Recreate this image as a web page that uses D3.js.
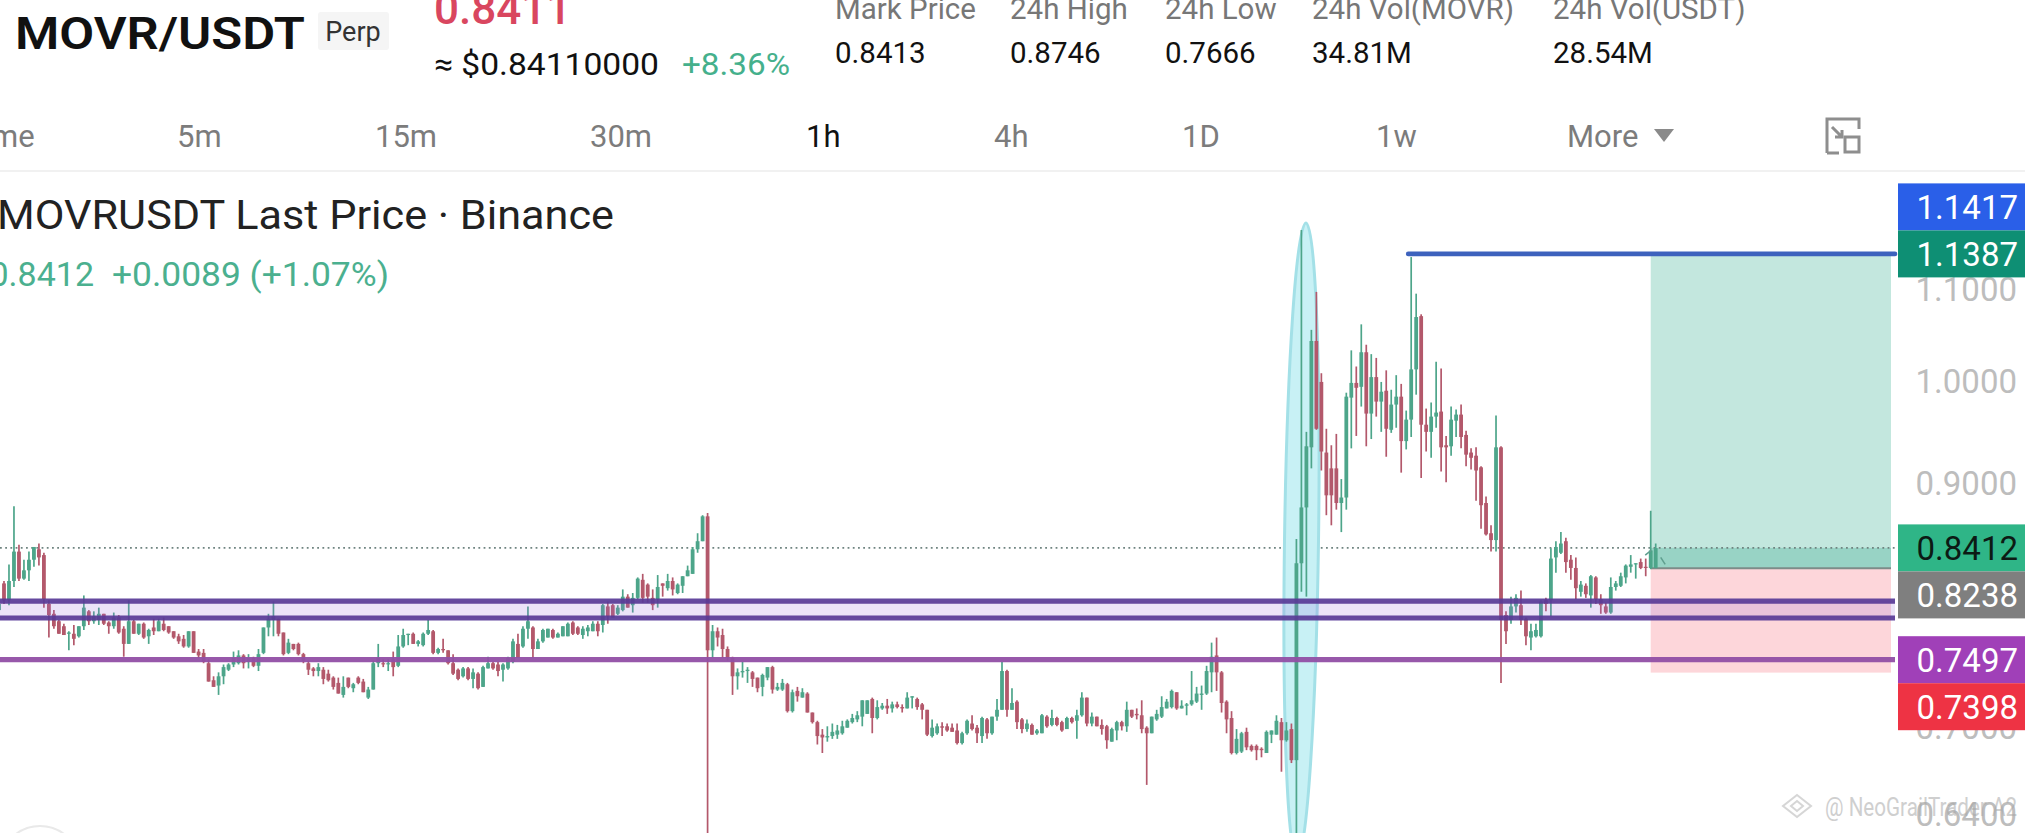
<!DOCTYPE html>
<html>
<head>
<meta charset="utf-8">
<script src="https://cdn.jsdelivr.net/npm/d3@7/dist/d3.min.js"></script>
<style>
  html, body { margin: 0; padding: 0; background: #fff; overflow: hidden; }
  text { font-family: Roboto, "Open Sans", sans-serif; }
</style>
</head>
<body>
<svg id="chart" width="2025" height="833"></svg>
<script>
// candles, g = up, r = down
var candleDirs = ("grggrgggrr" + "rrrrgrggrg" + "grrgrrgrgr" + "grgrrrrrgr" + "rrrrgggggr" + "grggggrrgr" + "rrrrgrrrrg" +
	"rgrrgggrgr" + "gggrgggrgr" + "rrrgrgrggr" + "rgggrggrgg" + "grgggrrggg" + "rgrrggrggr" + "rrgrgrgggg" +
	"ggrgrrrrgg" + "grrggrggrg" + "rgrrrrgggg" + "gggggrggrg" + "rrggrrrggr" + "rrrggrrgrg" + "ggrgrrgrgg" +
	"rgrrgrggrg" + "rrrggrgrrr" + "rgggggrggg" + "ggggrrrrgg" + "rrrrgggrgr" + "ggggrrrrrg" + "ggrgrgrgrg" +
	"grgggrrggr" + "rggrrrrrrr" + "grrggrrggg" + "rgggrrrgrg" + "rrrggggggr" + "rgg").split("");

var candleHighs = [
	.797,.813,.827,.878,.844,.831,.838,.842,.845,.837,
	.797,.789,.781,.778,.772,.777,.776,.801,.789,.788,
	.791,.786,.780,.787,.785,.776,.797,.781,.778,.779,
	.774,.782,.782,.783,.776,.772,.770,.769,.772,.772,
	.758,.758,.750,.737,.740,.746,.747,.756,.757,.754,
	.754,.752,.758,.775,.786,.796,.782,.771,.766,.762,
	.763,.755,.749,.744,.747,.744,.742,.737,.736,.737,
	.736,.732,.737,.735,.729,.749,.762,.750,.750,.756,
	.769,.774,.770,.771,.765,.771,.781,.773,.759,.766,
	.757,.754,.743,.744,.744,.743,.740,.745,.752,.748,
	.748,.747,.752,.766,.770,.776,.792,.776,.766,.774,
	.774,.774,.771,.776,.779,.780,.776,.776,.777,.780,
	.780,.794,.796,.794,.793,.806,.802,.803,.816,.819,
	.811,.806,.818,.811,.819,.816,.811,.817,.826,.842,
	.854,.870,.872,.777,.775,.774,.760,.752,.743,.748,
	.744,.741,.736,.739,.744,.745,.732,.735,.732,.727,
	.729,.728,.725,.710,.704,.698,.700,.702,.701,.704,
	.705,.709,.711,.719,.719,.721,.719,.717,.720,.718,
	.718,.716,.725,.722,.721,.717,.712,.705,.702,.703,
	.702,.702,.702,.696,.705,.708,.701,.707,.706,.707,
	.720,.748,.742,.728,.719,.706,.705,.702,.698,.709,
	.708,.712,.707,.704,.707,.707,.712,.725,.721,.710,
	.707,.705,.701,.699,.704,.704,.718,.712,.713,.719,
	.700,.707,.712,.722,.720,.727,.725,.719,.717,.741,
	.729,.730,.745,.763,.767,.741,.719,.711,.698,.696,
	.699,.687,.687,.685,.697,.697,.708,.706,.703,.702,
	.849,1.167,.948,1.053,1.095,1.007,.951,.935,.946,.903,
	.987,1.031,1.014,1.059,1.037,1.027,1.023,.998,1.010,.990,
	1.005,.996,.969,1.135,1.093,1.070,.971,.977,1.019,1.012,
	.944,.973,.970,.975,.949,.932,.933,.915,.887,.861,
	.964,.934,.788,.800,.802,.805,.783,.778,.778,.797,
	.799,.841,.847,.855,.850,.835,.833,.813,.811,.818,
	.817,.802,.795,.816,.813,.820,.827,.835,.828,.832,
	.832,.874,.845];

var candleTops = [
	.794,.811,.813,.838,.838,.822,.831,.842,.840,.835,
	.794,.786,.780,.776,.771,.770,.776,.791,.788,.784,
	.786,.786,.779,.783,.783,.774,.780,.780,.778,.778,
	.773,.775,.780,.778,.776,.772,.768,.766,.772,.772,
	.756,.755,.747,.734,.737,.744,.746,.751,.753,.753,
	.751,.751,.754,.775,.782,.784,.782,.771,.763,.762,
	.762,.754,.747,.743,.744,.742,.739,.736,.732,.729,
	.736,.731,.736,.733,.727,.747,.751,.747,.747,.750,
	.760,.769,.770,.770,.764,.770,.773,.772,.758,.758,
	.757,.747,.742,.743,.743,.740,.739,.744,.747,.747,
	.746,.746,.751,.764,.762,.774,.780,.775,.764,.773,
	.774,.773,.770,.776,.778,.779,.775,.774,.775,.778,
	.778,.793,.792,.793,.791,.800,.800,.799,.815,.814,
	.810,.799,.808,.811,.813,.813,.810,.817,.822,.840,
	.847,.869,.869,.772,.772,.769,.758,.751,.740,.741,
	.742,.740,.736,.738,.744,.744,.729,.732,.731,.725,
	.726,.725,.724,.710,.703,.694,.693,.696,.697,.700,
	.704,.706,.708,.719,.719,.720,.714,.715,.715,.716,
	.716,.714,.721,.722,.720,.716,.712,.699,.700,.700,
	.700,.699,.697,.695,.704,.702,.699,.706,.705,.707,
	.712,.741,.741,.717,.718,.705,.702,.701,.697,.708,
	.707,.706,.706,.703,.706,.706,.708,.721,.721,.707,
	.707,.701,.700,.698,.703,.703,.712,.712,.709,.708,
	.699,.707,.709,.714,.718,.726,.725,.715,.716,.719,
	.724,.724,.741,.752,.753,.740,.718,.706,.691,.695,
	.696,.686,.686,.684,.696,.697,.704,.703,.697,.698,
	.828,.877,.934,1.041,1.041,.998,.928,.913,.913,.886,
	.983,.997,.997,1.029,1.029,1.003,1.003,.988,.989,.975,
	.983,.983,.960,1.011,1.067,1.068,.955,.963,.967,.968,
	.935,.960,.965,.965,.945,.928,.925,.914,.881,.854,
	.933,.933,.785,.792,.799,.793,.782,.772,.773,.796,
	.797,.832,.842,.845,.847,.831,.824,.810,.809,.817,
	.816,.798,.792,.808,.811,.817,.826,.827,.828,.829,
	.825,.839,.841];

var candleBottoms = [
	.789,.797,.797,.813,.815,.815,.822,.831,.833,.798,
	.785,.776,.770,.769,.770,.766,.768,.776,.780,.780,
	.781,.778,.776,.776,.771,.762,.762,.770,.770,.767,
	.768,.772,.772,.773,.771,.767,.764,.760,.760,.755,
	.753,.748,.733,.729,.730,.737,.742,.746,.747,.747,
	.748,.745,.745,.755,.775,.781,.770,.754,.755,.758,
	.754,.749,.742,.741,.741,.735,.734,.729,.724,.723,
	.729,.728,.732,.725,.721,.727,.747,.747,.747,.744,
	.745,.760,.769,.762,.762,.761,.770,.755,.755,.757,
	.747,.739,.735,.737,.735,.735,.728,.729,.743,.743,
	.741,.742,.743,.748,.751,.760,.774,.758,.758,.764,
	.767,.767,.767,.768,.768,.770,.770,.769,.772,.772,
	.772,.777,.784,.783,.786,.789,.791,.793,.799,.799,
	.800,.793,.798,.809,.807,.806,.803,.809,.817,.819,
	.840,.847,.757,.757,.767,.758,.751,.737,.737,.740,
	.741,.735,.728,.729,.736,.727,.727,.727,.711,.711,
	.722,.721,.710,.703,.693,.692,.692,.693,.694,.695,
	.699,.703,.705,.707,.709,.706,.706,.713,.713,.713,
	.714,.713,.713,.721,.714,.712,.694,.693,.695,.699,
	.697,.696,.688,.688,.695,.698,.695,.693,.695,.695,
	.707,.712,.712,.712,.703,.698,.698,.694,.695,.695,
	.700,.701,.701,.697,.698,.703,.704,.708,.702,.702,
	.700,.698,.690,.689,.697,.700,.700,.707,.708,.698,
	.695,.695,.705,.707,.713,.714,.713,.713,.715,.716,
	.718,.723,.724,.740,.740,.717,.705,.681,.681,.682,
	.685,.683,.683,.683,.681,.694,.694,.690,.690,.676,
	.676,.828,.877,.933,.951,.929,.888,.888,.881,.881,
	.886,.982,.992,.993,.966,.966,.978,.978,.951,.950,
	.975,.939,.939,.960,1.011,.955,.948,.948,.963,.933,
	.933,.934,.959,.943,.926,.923,.911,.879,.853,.848,
	.848,.781,.772,.781,.792,.781,.768,.767,.768,.768,
	.794,.797,.833,.837,.829,.824,.807,.804,.802,.801,
	.798,.793,.787,.787,.808,.809,.816,.825,.827,.824,
	.824,.824,.824];

var candleLows = [
	.789,.794,.793,.808,.813,.814,.813,.825,.826,.791,
	.767,.774,.770,.769,.757,.761,.767,.773,.777,.778,
	.777,.777,.770,.774,.770,.752,.762,.770,.769,.766,
	.762,.769,.772,.772,.770,.766,.762,.759,.759,.755,
	.751,.747,.733,.729,.723,.731,.741,.744,.746,.743,
	.743,.744,.741,.754,.768,.768,.768,.753,.754,.757,
	.753,.747,.738,.737,.737,.731,.733,.727,.724,.721,
	.728,.725,.731,.725,.720,.727,.744,.744,.741,.737,
	.744,.759,.761,.762,.760,.760,.769,.754,.754,.755,
	.746,.738,.734,.736,.734,.728,.727,.729,.743,.742,
	.737,.733,.742,.747,.751,.759,.766,.751,.758,.763,
	.767,.766,.767,.768,.768,.769,.769,.766,.768,.772,
	.768,.771,.778,.783,.785,.788,.791,.787,.798,.795,
	.795,.789,.791,.800,.805,.801,.802,.803,.817,.819,
	.837,.847,.623,.751,.760,.751,.749,.723,.727,.736,
	.732,.729,.725,.722,.734,.724,.726,.726,.710,.710,
	.718,.721,.710,.702,.687,.681,.689,.691,.691,.694,
	.699,.702,.703,.700,.709,.695,.705,.712,.709,.710,
	.713,.710,.713,.713,.712,.705,.693,.692,.694,.693,
	.696,.696,.687,.687,.694,.697,.688,.688,.691,.694,
	.704,.712,.707,.712,.698,.695,.696,.694,.694,.695,
	.699,.700,.700,.696,.698,.702,.691,.707,.700,.700,
	.700,.694,.684,.689,.690,.697,.696,.706,.705,.695,
	.659,.695,.704,.706,.713,.713,.712,.713,.708,.715,
	.717,.712,.723,.725,.726,.710,.695,.680,.680,.681,
	.683,.682,.676,.678,.681,.688,.694,.668,.689,.674,
	.623,.804,.800,.913,.950,.911,.870,.861,.875,.855,
	.875,.932,.944,.973,.934,.941,.963,.948,.924,.947,
	.952,.909,.931,.943,.985,.904,.929,.923,.952,.910,
	.900,.925,.943,.932,.915,.912,.883,.858,.852,.838,
	.838,.732,.762,.778,.787,.777,.761,.757,.767,.767,
	.788,.784,.820,.836,.820,.814,.798,.800,.799,.791,
	.794,.786,.786,.786,.805,.808,.811,.820,.815,.823,
	.817,.823,.824];

var axisTicks = [1.1, 1.0, 0.9, 0.7, 0.64];
var lastPrice = 0.8412;
var entryPrice = 0.8238;
var targetPrice = 1.1387;
var stopPrice = 0.7398;
var zoneTop = 0.7964, zoneBottom = 0.7826;
var supportPrice = 0.7497;

var tagPrices = [1.1417, 1.1387, 0.8412, 0.8238, 0.7497, 0.7398];
var tagFills = ["#2a5fe8", "#0e8f74", "#2fb587", "#7f7f7f", "#a040b8", "#ee3344"];
var tagInks = ["#fff", "#fff", "#0c1a14", "#fff", "#fff", "#fff"];

var statLabels = ["Mark Price", "24h High", "24h Low", "24h Vol(MOVR)", "24h Vol(USDT)"];
var statValues = ["0.8413", "0.8746", "0.7666", "34.81M", "28.54M"];
var statLefts = [835, 1010, 1165, 1312, 1553];

var tabLabels = ["Time", "5m", "15m", "30m", "1h", "4h", "1D", "1w", "More"];
var tabLefts = [-35, 177, 375, 590, 806, 994, 1182, 1376, 1567];

var svg = d3.select("#chart");
var width = 2025, plotRight = 1895, boxRight = 1891, tagLeft = 1898;

var x = d3.scaleLinear().domain([0, 332]).range([-1, 1655.7]);
var y = d3.scaleLog().domain([1, 0.7]).range([380, 726.3]);

var green = "#4da58a", red = "#b3586b";

// squeezes a text to the width it has in the reference
function fitText(sel, w) {
	return sel.attr("textLength", w).attr("lengthAdjust", "spacingAndGlyphs");
}

// header
fitText(svg.append("text").attr("x", 15).attr("y", 49).attr("font-size", 45).attr("font-weight", 600)
	.attr("fill", "#111").text("MOVR/USDT"), 290);
svg.append("rect").attr("x", 318).attr("y", 12).attr("width", 71).attr("height", 38).attr("rx", 3).attr("fill", "#f5f5f5");
svg.append("text").attr("x", 353).attr("y", 41).attr("font-size", 27).attr("text-anchor", "middle").attr("fill", "#333").text("Perp");
svg.append("text").attr("x", 434).attr("y", 24).attr("font-size", 44).attr("font-weight", 500).attr("fill", "#d9465f").text("0.8411");
fitText(svg.append("text").attr("x", 434).attr("y", 75).attr("font-size", 31).attr("fill", "#111").text("≈ $0.84110000"), 225);
fitText(svg.append("text").attr("x", 682).attr("y", 75).attr("font-size", 31).attr("fill", "#45b08c").text("+8.36%"), 108);

statLabels.forEach(function(d, i) {
	svg.append("text").attr("x", statLefts[i]).attr("y", 19).attr("font-size", 29.5).attr("fill", "#777").text(d);
	svg.append("text").attr("x", statLefts[i]).attr("y", 63).attr("font-size", 29.5).attr("fill", "#111").text(statValues[i]);
});

tabLabels.forEach(function(d, i) {
	svg.append("text").attr("x", tabLefts[i]).attr("y", 147).attr("font-size", 31)
		.attr("fill", d == "1h" ? "#111" : "#7c7c7c").text(d);
});
svg.append("path").attr("d", "M1654,129 h20 l-10,13 z").attr("fill", "#8a8a8a");
// the collapse icon next to More
svg.append("path").attr("d", "M1827,153 v-34 h32 v10 M1827,153 h12 M1832,127 l10,10 M1842,130 v7 h-7")
	.attr("fill", "none").attr("stroke", "#8e8e8e").attr("stroke-width", 3);
svg.append("rect").attr("x", 1845).attr("y", 137).attr("width", 14).attr("height", 15)
	.attr("fill", "none").attr("stroke", "#8e8e8e").attr("stroke-width", 3);
svg.append("line").attr("x1", 0).attr("x2", width).attr("y1", 171).attr("y2", 171).attr("stroke", "#f1f1f1").attr("stroke-width", 2);

fitText(svg.append("text").attr("x", -3).attr("y", 229).attr("font-size", 41).attr("fill", "#222").text("MOVRUSDT Last Price · Binance"), 617);
svg.append("text").attr("x", 94).attr("y", 286).attr("font-size", 34).attr("text-anchor", "end").attr("fill", "#4bb08f").text("0.8412");
fitText(svg.append("text").attr("x", 112).attr("y", 286).attr("font-size", 34).attr("fill", "#4bb08f").text("+0.0089 (+1.07%)"), 277);

// long / short position boxes
svg.append("rect").attr("x", x(331)).attr("width", boxRight - x(331))
	.attr("y", y(targetPrice)).attr("height", y(entryPrice) - y(targetPrice)).attr("fill", "#c3e7de");
svg.append("rect").attr("x", x(331)).attr("width", boxRight - x(331))
	.attr("y", y(lastPrice)).attr("height", y(entryPrice) - y(lastPrice)).attr("fill", "#98d3c5");
svg.append("rect").attr("x", x(331)).attr("width", boxRight - x(331))
	.attr("y", y(entryPrice)).attr("height", y(stopPrice) - y(entryPrice)).attr("fill", "#fdd6da");
svg.append("line").attr("x1", x(331)).attr("x2", boxRight).attr("y1", y(entryPrice)).attr("y2", y(entryPrice))
	.attr("stroke", "#7d8c88").attr("stroke-width", 2);

// last price dotted line
svg.append("line").attr("x1", 0).attr("x2", plotRight).attr("y1", y(lastPrice)).attr("y2", y(lastPrice))
	.attr("stroke", "#6f8480").attr("stroke-width", 1.6).attr("stroke-dasharray", "1.8 3.4");

// the hand drawn oval round the breakout
svg.append("ellipse").attr("cx", 1301.5).attr("cy", 541).attr("rx", 17).attr("ry", 318)
	.attr("transform", "rotate(0.8 1301.5 541)")
	.attr("fill", "#c8f1f5").attr("stroke", "#a3e0e7").attr("stroke-width", 3);

// candles
var candles = svg.append("g").selectAll("g")
	.data(candleDirs)
	.enter().append("g")
	.attr("fill", function(d) { return d == "g" ? green : red; })
	.attr("stroke", function(d) { return d == "g" ? green : red; });
candles.append("line")
	.attr("x1", function(d, i) { return x(i); })
	.attr("x2", function(d, i) { return x(i); })
	.attr("y1", function(d, i) { return y(candleHighs[i]); })
	.attr("y2", function(d, i) { return y(candleLows[i]); })
	.attr("stroke-width", 1.7);
candles.append("rect")
	.attr("x", function(d, i) { return x(i) - 1.9; })
	.attr("width", 3.8)
	.attr("y", function(d, i) { return y(candleTops[i]); })
	.attr("height", function(d, i) { return Math.max(1.2, y(candleBottoms[i]) - y(candleTops[i])); })
	.attr("stroke", "none");

// little marks by the last candle
var markIdx = [[329.9, 331.1], [333, 333.9]];
var markPrice = [[0.835, 0.839], [0.833, 0.827]];
markIdx.forEach(function(m, i) {
	svg.append("line").attr("x1", x(m[0])).attr("x2", x(m[1]))
		.attr("y1", y(markPrice[i][0])).attr("y2", y(markPrice[i][1]))
		.attr("stroke", "#5f9e8e").attr("stroke-width", 1.5);
});

// purple zone and lines go over the candles
svg.append("rect").attr("x", 0).attr("width", plotRight)
	.attr("y", y(zoneTop)).attr("height", y(zoneBottom) - y(zoneTop))
	.attr("fill", "#9a74da").attr("opacity", 0.2);
[zoneTop, zoneBottom].forEach(function(p) {
	svg.append("line").attr("x1", 0).attr("x2", plotRight).attr("y1", y(p)).attr("y2", y(p))
		.attr("stroke", "#593a97").attr("stroke-width", 5.2).attr("opacity", 0.92);
});
svg.append("line").attr("x1", 0).attr("x2", plotRight).attr("y1", y(supportPrice)).attr("y2", y(supportPrice))
	.attr("stroke", "#9250a6").attr("stroke-width", 5.2).attr("opacity", 0.95);
svg.append("line").attr("x1", x(283) - 3).attr("x2", plotRight).attr("y1", y(targetPrice)).attr("y2", y(targetPrice))
	.attr("stroke", "#3d62bd").attr("stroke-width", 4.6).attr("stroke-linecap", "round");

// price axis
var axis = d3.axisRight(y).tickValues(axisTicks).tickFormat(d3.format(".4f")).tickSize(0);
var axisG = svg.append("g").attr("transform", "translate(2017,2)").call(axis);
axisG.select(".domain").remove();
axisG.selectAll("text").attr("x", 0).attr("text-anchor", "end")
	.attr("font-size", 33).attr("font-family", "Roboto").attr("fill", "#bdbdbd");

// tags, pushed apart where two prices are too close
var tagH = 47;
var tagYs = tagPrices.map(function(p) { return y(p); });
tagYs[0] = tagYs[1] - tagH;
tagYs[3] = tagYs[2] + tagH;
tagYs[5] = tagYs[4] + tagH;
var tags = svg.append("g").selectAll("g").data(tagPrices).enter().append("g")
	.attr("transform", function(d, i) { return "translate(" + tagLeft + "," + tagYs[i] + ")"; });
tags.append("rect").attr("x", 0).attr("y", -tagH / 2).attr("width", width - tagLeft).attr("height", tagH)
	.attr("fill", function(d, i) { return tagFills[i]; });
tags.append("text").attr("x", 120).attr("y", 12).attr("text-anchor", "end").attr("font-size", 33)
	.attr("fill", function(d, i) { return tagInks[i]; })
	.text(function(d) { return d.toFixed(4); });

// watermark
var mark = svg.append("g").attr("opacity", 0.55);
mark.append("path").attr("d", "M1797,795 l14,11 l-14,11 l-14,-11 z M1797,801 l6,5 l-6,5 l-6,-5 z")
	.attr("fill", "none").attr("stroke", "#b5b5b5").attr("stroke-width", 2);
fitText(mark.append("text").attr("x", 1825).attr("y", 816).attr("font-size", 26)
	.attr("fill", "#a8a8a8").text("@ NeoGrailTrader A2"), 192);

// corner of the round button at the bottom left
svg.append("circle").attr("cx", 40).attr("cy", 866).attr("r", 40)
	.attr("fill", "none").attr("stroke", "#e9e9e9").attr("stroke-width", 2);
</script>
</body>
</html>
